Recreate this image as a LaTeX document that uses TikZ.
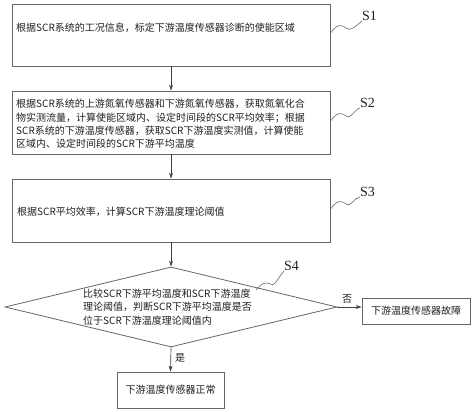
\documentclass[tikz,border=0pt]{standalone}
\usepackage{fontspec}
\setmainfont{Noto Sans CJK SC}
\newfontfamily\labfont{Liberation Serif}
\usetikzlibrary{shapes.geometric,arrows.meta,calc}
\begin{document}
\begin{tikzpicture}[x=1pt,y=1pt,
  every node/.style={text=black!88},
  stepbox/.style={draw=black!60,line width=0.8pt,rectangle,inner sep=0pt},
  txt/.style={font=\fontsize{10}{13.2}\selectfont,align=left,inner sep=0pt},
  lab/.style={font=\labfont\fontsize{14}{14}\selectfont,inner sep=0pt},
  flow/.style={draw=black!75,line width=0.7pt,-{Stealth[length=6pt,width=4pt]}},
  squig/.style={draw=black!60,line width=0.6pt}]
\useasboundingbox (0,0) rectangle (474,412);
% boxes
\node[stepbox,minimum width=318pt,minimum height=62pt] (b1) at (171,377) {};
\node[txt,anchor=west] (t1) at (16,384) {根据SCR系统的工况信息，标定下游温度传感器诊断的使能区域};
\node[stepbox,minimum width=318pt,minimum height=63pt] (b2) at (171,289.5) {};
\node[txt,anchor=west] (t2) at (16,288) {根据SCR系统的上游氮氧传感器和下游氮氧传感器，获取氮氧化合\\物实测流量，计算使能区域内、设定时间段的SCR平均效率；根据\\SCR系统的下游温度传感器，获取SCR下游温度实测值，计算使能\\区域内、设定时间段的SCR下游平均温度};
\node[stepbox,minimum width=318pt,minimum height=63pt] (b3) at (171,201.5) {};
\node[txt,anchor=west] (t3) at (17,200) {根据SCR平均效率，计算SCR下游温度理论阈值};
\node[draw=black!60,line width=0.8pt,diamond,aspect=4.15,minimum width=332pt,minimum height=80pt,inner sep=0pt] (d4) at (171,105) {};
\node[txt,anchor=west] (t4) at (83,105) {比较SCR下游平均温度和SCR下游温度\\理论阈值，判断SCR下游平均温度是否\\位于SCR下游温度理论阈值内};
\node[stepbox,minimum width=108pt,minimum height=26pt,txt,align=center] (bf) at (416,101) {下游温度传感器故障};
\node[stepbox,minimum width=107pt,minimum height=36pt,txt,align=center] (bn) at (170.5,22) {下游温度传感器正常};
% arrows
\draw[flow] (b1.south) -- (b2.north);
\draw[flow] (b2.south) -- (b3.north);
\draw[flow] (b3.south) -- (d4.north);
\draw[flow] (d4.east) -- (d4.east -| bf.west) node[pos=0.4,above=3pt,txt] (no) {否};
\draw[flow] (d4.south) -- (bn.north) node[pos=0.45,right=4pt,txt] (yes) {是};
% step labels
\node[lab,anchor=west] (s1) at (362,396) {S1};
\node[lab,anchor=west] (s2) at (360,309) {S2};
\node[lab,anchor=west] (s3) at (360,220) {S3};
\node[lab,anchor=west] (s4) at (284,146) {S4};
\draw[squig] (330,378) .. controls (336,388) and (342,388) .. (346,384) .. controls (350,380) and (356,386) .. (s1.south west);
\draw[squig] (330,290) .. controls (336,300) and (342,300) .. (346,296) .. controls (350,292) and (354,302) .. (s2.south west);
\draw[squig] (330,202) .. controls (336,212) and (342,212) .. (346,208) .. controls (350,204) and (354,214) .. (s3.south west);
\draw[squig] (256,122) .. controls (262,130) and (268,130) .. (270,128) .. controls (274,124) and (278,134) .. (s4.south west);
\end{tikzpicture}
\end{document}
